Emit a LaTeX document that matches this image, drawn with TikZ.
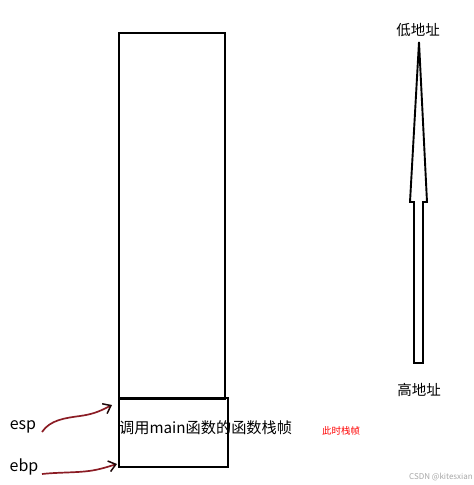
\documentclass[tikz,border=0pt]{standalone}
\usepackage{fontspec}
\setmainfont{Noto Sans CJK SC}
\usetikzlibrary{arrows.meta}
\definecolor{penred}{HTML}{8B1C24}
\tikzset{
  box/.style={draw=black, line width=2pt},
  lbl/.style={inner sep=0pt, font=\fontsize{13}{13}\selectfont},
  pen/.style={draw=penred, line width=1.7pt, -{Straight Barb[length=7pt,width=11pt,line width=1.5pt,color=black!80!penred]}}
}
\begin{document}
\begin{tikzpicture}[x=1pt,y=-1pt]
\useasboundingbox (0,0) rectangle (474,485);
% stack boxes
\node[box, minimum width=106pt, minimum height=366pt, inner sep=0pt, anchor=north west] (stack) at (118,32) {};
\node[box, minimum width=109pt, minimum height=69pt, inner sep=0pt, anchor=north west] (frame) at (118,397) {};
\node[lbl, anchor=west, font=\fontsize{15.2}{15.2}\selectfont] (ftext) at (119,428) {调用main函数的函数栈帧};
% red note
\node[lbl, text=red, font=\fontsize{9.5}{9.5}\selectfont] (note) at (341,431) {此时栈帧};
% watermark
\node[lbl, text=black!35, font=\fontsize{8}{8}\selectfont, anchor=east] (wm) at (473,477) {CSDN @kitesxian};
% esp / ebp
\node[lbl, font=\fontsize{16}{16}\selectfont] (esp) at (23,427) {esp};
\node[lbl, font=\fontsize{16}{16}\selectfont] (ebp) at (24,467) {ebp};
\coordinate (espT) at (112,405);
\coordinate (ebpT) at (117,464);
\draw[pen] (42,432) .. controls (50,420) and (65,418) .. (80,416) .. controls (95,414) and (102,410) .. (espT);
\draw[pen] (42,474) .. controls (60,472) and (80,473) .. (95,470) .. controls (105,468) and (110,466) .. (ebpT);
% address arrow
\draw[line width=1.9pt, line join=miter] (419,42) -- (427,202) -- (423,202) -- (423,363) -- (414,363) -- (414,202) -- (410,202) -- cycle;
\node[lbl, font=\fontsize{14.5}{14.5}\selectfont] (low) at (418,30) {低地址};
\node[lbl, font=\fontsize{14.5}{14.5}\selectfont] (high) at (419,390) {高地址};
\end{tikzpicture}
\end{document}
